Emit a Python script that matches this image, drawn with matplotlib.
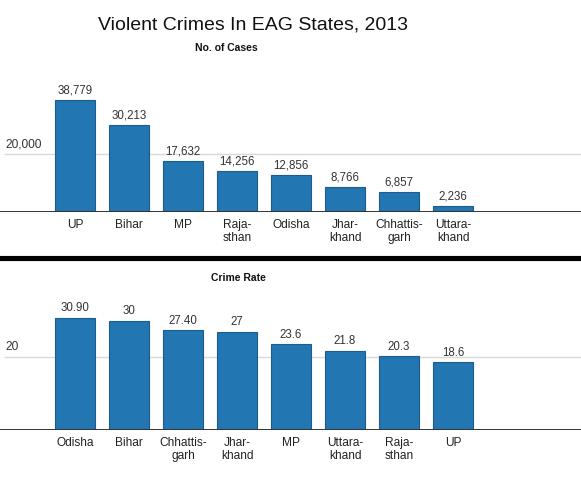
import matplotlib
matplotlib.use("Agg")
import matplotlib.pyplot as plt
from matplotlib.transforms import blended_transform_factory

plt.rcParams['font.family'] = ['Liberation Sans', 'DejaVu Sans']

# ---- data ----
cases_states = ["UP", "Bihar", "MP", "Raja-\nsthan", "Odisha", "Jhar-\nkhand", "Chhattis-\ngarh", "Uttara-\nkhand"]
cases_values = [38779, 30213, 17632, 14256, 12856, 8766, 6857, 2236]
cases_labels = ["38,779", "30,213", "17,632", "14,256", "12,856", "8,766", "6,857", "2,236"]
cases_ticks = [20000]
cases_tick_labels = ["20,000"]

rate_states = ["Odisha", "Bihar", "Chhattis-\ngarh", "Jhar-\nkhand", "MP", "Uttara-\nkhand", "Raja-\nsthan", "UP"]
rate_values = [30.90, 30, 27.40, 27, 23.6, 21.8, 20.3, 18.6]
rate_labels = ["30.90", "30", "27.40", "27", "23.6", "21.8", "20.3", "18.6"]
rate_ticks = [20]
rate_tick_labels = ["20"]

title = "Violent Crimes In EAG States, 2013"
sub1 = "No. of Cases"
sub2 = "Crime Rate"

W, H = 581, 486
fig = plt.figure(figsize=(W / 100, H / 100), dpi=100)
fig.patch.set_facecolor("white")

BAR = "#2276b2"
EDGE = "#1b5c8e"
TXT = "#333333"


def px_axes(top, bottom):
    return fig.add_axes([0, 1 - bottom / H, 1, (bottom - top) / H])


def draw(ax, cats, vals, labels, ticks, tlabels, ytop):
    x = list(range(len(cats)))
    bars = ax.bar(x, vals, width=0.74, color=BAR, edgecolor=EDGE, linewidth=0.8, zorder=3)
    ax.bar_label(bars, labels=labels, padding=2.5, fontsize=8.3, color=TXT)
    ax.set_xlim(-1.39, 9.37)
    ax.set_ylim(0, ytop)
    for s in ax.spines.values():
        s.set_visible(False)
    ax.axhline(0, color="#333333", linewidth=1.4, zorder=4)
    ax.set_yticks([])
    ax.set_xticks(x)
    ax.set_xticklabels(cats, fontsize=8.6, color="#222222", linespacing=1.15)
    ax.tick_params(axis="x", length=0, pad=5)
    tr = blended_transform_factory(ax.transAxes, ax.transData)
    for t, lab in zip(ticks, tlabels):
        ax.axhline(t, xmin=5 / W, xmax=1, color="#d9d9d9", linewidth=1.0, zorder=1)
        ax.annotate(lab, xy=(5 / W, t), xycoords=tr, xytext=(0, 3), textcoords="offset points",
                    ha="left", va="bottom", fontsize=8.6, color=TXT)


ax1 = px_axes(70, 212)
draw(ax1, cases_states, cases_values, cases_labels, cases_ticks, cases_tick_labels, 49220)

ax2 = px_axes(290, 430)
draw(ax2, rate_states, rate_values, rate_labels, rate_ticks, rate_tick_labels, 38.5)

fig.text(252.5 / W, 1 - 25 / H, title, ha="center", va="center", fontsize=14, color="#111111")
fig.text(226.7 / W, 1 - 48 / H, sub1, ha="center", va="center", fontsize=7.5, fontweight="bold", color="#111111")
fig.text(238.7 / W, 1 - 277.7 / H, sub2, ha="center", va="center", fontsize=7.5, fontweight="bold", color="#111111")

fig.add_artist(plt.Line2D([0, 1], [1 - 258 / H, 1 - 258 / H], transform=fig.transFigure,
                          color="black", linewidth=3.7))

fig.savefig("out.png", dpi=100, facecolor="white")
